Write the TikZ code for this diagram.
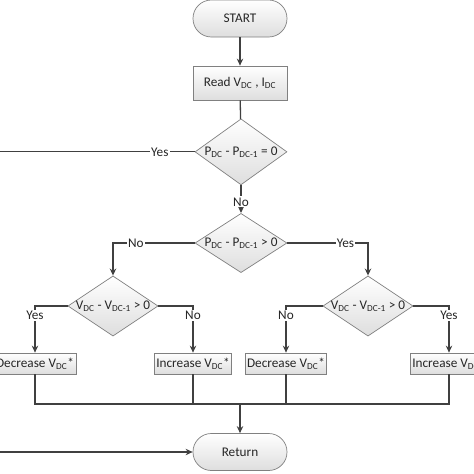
\documentclass[tikz,border=0pt]{standalone}
\usepackage{fontspec}
\setmainfont{Carlito}
\usetikzlibrary{shapes,calc,arrows.meta}
\definecolor{lineGray}{HTML}{404040}
\definecolor{boxGray}{HTML}{808080}
\definecolor{textGray}{HTML}{262626}

\begin{document}
\begin{tikzpicture}
    \tikzstyle{edge}  = [line width=1.1pt,draw=lineGray]
    \tikzstyle{dedge} = [line width=1.1pt,->,>={Stealth[length=6pt,width=5.5pt]},draw=lineGray]
    \tikzstyle{answer}=[
      fill=white,
      inner sep=1pt,
      text=textGray,
      font=\fontsize{11.3}{13}\selectfont,
    ]
    \tikzstyle{base}=[
      draw=boxGray,
      line width=0.6pt,
      top color=white,
      bottom color=black!13,
      text=textGray,
      anchor=center,
      font=\fontsize{11.3}{13}\selectfont,
    ]
    \tikzstyle{term}=[
      base,
      rectangle,
      rounded corners=0.55cm,
      minimum width=2.82cm,
      minimum height=1.11cm,
    ]
    \tikzstyle{proc}=[
      base,
      rectangle,
      inner xsep=1.5pt,
      minimum height=0.63cm,
    ]
    \tikzstyle{test}=[
      base,
      diamond,
      aspect=1.5,
      inner sep=0pt,
      minimum width=2.76cm,
    ]

    \useasboundingbox (0,0) rectangle (14.22,-14.22);
    \coordinate (startAnchor) at (7.2,-0.555);

    % main column
    {
      \node[term] (start) at ([xshift=0cm, yshift=0cm] startAnchor) {START};
      \node[proc, minimum width=2.82cm, minimum height=1.02cm] (read) at ([xshift=0cm, yshift=-1.935cm] startAnchor) {Read V\textsubscript{DC} , I\textsubscript{DC}};
      \node[test, minimum height=1.98cm] (test1) at ([xshift=0.03cm, yshift=-4.0cm] startAnchor) {P\textsubscript{DC} - P\textsubscript{DC-1} = 0};
      \node[test, minimum height=1.65cm] (test2) at ([xshift=0.03cm, yshift=-6.735cm] startAnchor) {P\textsubscript{DC} - P\textsubscript{DC-1} > 0};

      \draw[dedge] (start)--(read);
      \draw[edge] (read)--(test1);
      \draw[dedge] (test1)-- node[answer, pos=0.6] {No} (test2);
    }

    % voltage tests
    {
      \node[test, minimum width=2.7cm, minimum height=1.62cm] (test3) at ([xshift=-3.81cm, yshift=-8.625cm] startAnchor) {V\textsubscript{DC} - V\textsubscript{DC-1} > 0};
      \node[test, minimum width=2.7cm, minimum height=1.62cm] (test4) at ([xshift=3.84cm, yshift=-8.625cm] startAnchor) {V\textsubscript{DC} - V\textsubscript{DC-1} > 0};

      \node[proc, minimum width=2.46cm] (decL) at ([xshift=-6.15cm, yshift=-10.35cm] startAnchor) {Decrease V\textsubscript{DC}*};
      \node[proc, minimum width=2.19cm] (incL) at ([xshift=-1.41cm, yshift=-10.35cm] startAnchor) {Increase V\textsubscript{DC}*};
      \node[proc, minimum width=2.43cm] (decR) at ([xshift=1.38cm, yshift=-10.35cm] startAnchor) {Decrease V\textsubscript{DC}*};
      \node[proc, minimum width=2.19cm] (incR) at ([xshift=6.27cm, yshift=-10.35cm] startAnchor) {Increase V\textsubscript{DC}*};

      \draw[dedge] (test2.west) -| node[answer, pos=0.36] {No} (test3.north);
      \draw[dedge] (test2.east) -| node[answer, pos=0.36] {Yes} (test4.north);

      \draw[dedge] (test3.west) -| node[answer, pos=0.6] {Yes} (decL.north);
      \draw[dedge] (test3.east) -| node[answer, pos=0.6] {No} (incL.north);
      \draw[dedge] (test4.west) -| node[answer, pos=0.6] {No} (decR.north);
      \draw[dedge] (test4.east) -| node[answer, pos=0.6] {Yes} (incR.north);
    }

    % return
    {
      \node[term] (return) at ([xshift=0cm, yshift=-13.005cm] startAnchor) {Return};
      \coordinate (merge) at ([xshift=0cm, yshift=-11.565cm] startAnchor);
      \coordinate (bypass) at ([xshift=-7.5cm, yshift=-4.0cm] startAnchor);

      \draw[edge] (decL.south) |- (incR.south |- merge) -- (incR.south);
      \draw[edge] (incL.south) -- (incL.south |- merge);
      \draw[edge] (decR.south) -- (decR.south |- merge);
      \draw[dedge] (merge) -- (return);

      \draw[dedge] (test1.west) -- node[answer, pos=0.17] {Yes} (bypass) |- (return.west);
    }
\end{tikzpicture}
\end{document}
